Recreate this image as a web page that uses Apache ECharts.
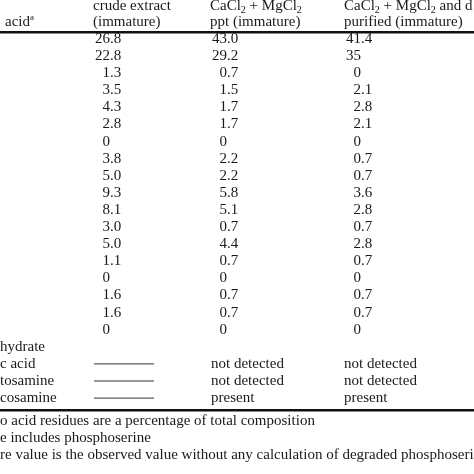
<!DOCTYPE html><html><head><meta charset="utf-8"><script src="https://cdn.jsdelivr.net/npm/echarts@6/dist/echarts.min.js"></script>
<style>html,body{margin:0;background:#fff}#c{width:474px;height:474px}</style></head><body><div id="c"></div><script>
const crude=["26.8","22.8","1.3","3.5","4.3","2.8","0","3.8","5.0","9.3","8.1","3.0","5.0","1.1","0","1.6","1.6","0"];
const ppt=["43.0","29.2","0.7","1.5","1.7","1.7","0","2.2","2.2","5.8","5.1","0.7","4.4","0.7","0","0.7","0.7","0"];
const purified=["41.4","35","0","2.1","2.8","2.1","0","0.7","0.7","3.6","2.8","0.7","2.8","0.7","0","0.7","0.7","0"];
const extraLabels=["hydrate","c acid","tosamine","cosamine"];
const extraPpt=["","not detected","not detected","present"];
const extraPur=["","not detected","not detected","present"];
const footnotes=["o acid residues are a percentage of total composition","e includes phosphoserine","re value is the observed value without any calculation of degraded phosphoserine"];
const F='"Liberation Serif","DejaVu Serif",serif';
const chart=echarts.init(document.getElementById('c'));
const g=[];
const base={fontFamily:F,fontSize:15,fill:'#1a1a1a'};
function txt(x,y,t,extra){g.push({type:'text',x:x,y:y,style:Object.assign({},base,{text:t,verticalAlign:'middle'},extra||{})});}
const rich={n:{fontFamily:F,fontSize:15,fill:'#1a1a1a'},s:{fontFamily:F,fontSize:10,padding:[8,0,0,0],fill:'#1a1a1a'},p:{fontFamily:F,fontSize:9,padding:[0,0,8,0],fill:'#1a1a1a'}};
function rt(x,y,t){g.push({type:'text',x:x,y:y,style:{text:t,rich:rich,verticalAlign:'middle',fontFamily:F,fontSize:15,fill:'#1a1a1a'}});}
rt(5,22,'{n|acid}{p|a}');
txt(93,6,'crude extract');txt(93,22,'(immature)');
rt(210,6,'{n|CaCl}{s|2}{n| + MgCl}{s|2}');txt(210,22,'ppt (immature)');
rt(344,6,'{n|CaCl}{s|2}{n| + MgCl}{s|2}{n| and d}');txt(344,22,'purified (immature)');
g.push({type:'rect',shape:{x:0,y:31,width:474,height:2.5},style:{fill:'#111'}});
function num(xd,y,v){const p=v.split('.');txt(xd,y,p[0],{align:'right'});if(p.length>1)txt(xd,y,'.'+p[1]);}
const y0=39,dy=17.1;
crude.forEach((v,i)=>{const y=y0+i*dy;num(110,y,v);num(227,y,ppt[i]);num(361,y,purified[i]);});
extraLabels.forEach((l,i)=>{const y=y0+(18+i)*dy;txt(0,y,l);
 if(i>0){g.push({type:'line',shape:{x1:94,y1:y,x2:154,y2:y},style:{stroke:'#333',lineWidth:1}});txt(211,y,extraPpt[i]);txt(344,y,extraPur[i]);}});
g.push({type:'rect',shape:{x:0,y:409,width:474,height:2.5},style:{fill:'#111'}});
footnotes.forEach((f,i)=>txt(0,421+i*17,f));
chart.setOption({animation:false,graphic:g});
</script></body></html>
